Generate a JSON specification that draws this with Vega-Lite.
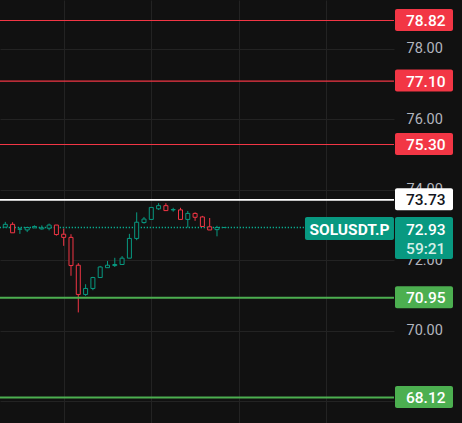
{
  "$schema": "https://vega.github.io/schema/vega-lite/v6.json",
  "width": 394,
  "height": 423,
  "autosize": {"type": "none"},
  "padding": {"left": 0, "top": 0, "right": 68, "bottom": 0},
  "background": "#111111",
  "config": {"view": {"stroke": null}, "font": "Roboto"},
  "datasets": {
    "candles": [
      {"i": 0, "o": 72.94, "h": 73.09, "l": 72.94, "c": 73.02},
      {"i": 1, "o": 73.02, "h": 73.08, "l": 72.78, "c": 72.78},
      {"i": 2, "o": 72.88, "h": 72.93, "l": 72.75, "c": 72.89},
      {"i": 3, "o": 72.86, "h": 72.93, "l": 72.80, "c": 72.93},
      {"i": 4, "o": 72.92, "h": 72.99, "l": 72.92, "c": 72.96},
      {"i": 5, "o": 72.89, "h": 72.99, "l": 72.87, "c": 72.92},
      {"i": 6, "o": 72.91, "h": 73.04, "l": 72.85, "c": 73.00},
      {"i": 7, "o": 73.00, "h": 73.00, "l": 72.70, "c": 72.73},
      {"i": 8, "o": 72.74, "h": 72.90, "l": 72.41, "c": 72.65},
      {"i": 9, "o": 72.65, "h": 72.74, "l": 71.56, "c": 71.85},
      {"i": 10, "o": 71.86, "h": 71.92, "l": 70.52, "c": 71.03},
      {"i": 11, "o": 71.03, "h": 71.32, "l": 70.99, "c": 71.20},
      {"i": 12, "o": 71.20, "h": 71.53, "l": 71.15, "c": 71.51},
      {"i": 13, "o": 71.51, "h": 71.84, "l": 71.51, "c": 71.81},
      {"i": 14, "o": 71.79, "h": 71.98, "l": 71.79, "c": 71.86},
      {"i": 15, "o": 71.85, "h": 72.07, "l": 71.81, "c": 71.88},
      {"i": 16, "o": 71.88, "h": 72.12, "l": 71.88, "c": 72.06},
      {"i": 17, "o": 72.06, "h": 72.75, "l": 72.06, "c": 72.62},
      {"i": 18, "o": 72.62, "h": 73.36, "l": 72.57, "c": 73.08},
      {"i": 19, "o": 73.07, "h": 73.23, "l": 73.04, "c": 73.17},
      {"i": 20, "o": 73.16, "h": 73.50, "l": 73.16, "c": 73.50},
      {"i": 21, "o": 73.46, "h": 73.62, "l": 73.43, "c": 73.55},
      {"i": 22, "o": 73.55, "h": 73.62, "l": 73.41, "c": 73.41},
      {"i": 23, "o": 73.43, "h": 73.49, "l": 73.38, "c": 73.44},
      {"i": 24, "o": 73.43, "h": 73.49, "l": 73.16, "c": 73.16},
      {"i": 25, "o": 73.16, "h": 73.40, "l": 72.93, "c": 73.33},
      {"i": 26, "o": 73.33, "h": 73.36, "l": 73.12, "c": 73.22},
      {"i": 27, "o": 73.23, "h": 73.26, "l": 72.96, "c": 72.96},
      {"i": 28, "o": 72.95, "h": 73.20, "l": 72.86, "c": 72.86},
      {"i": 29, "o": 72.87, "h": 72.98, "l": 72.68, "c": 72.93},
      {"i": 30, "o": 72.93, "h": 72.93, "l": 72.93, "c": 72.93}
    ],
    "levels": [
      {"price": 78.82, "label": "78.82", "kind": "res"},
      {"price": 77.10, "label": "77.10", "kind": "res"},
      {"price": 75.30, "label": "75.30", "kind": "res"},
      {"price": 73.73, "label": "73.73", "kind": "cur"},
      {"price": 70.95, "label": "70.95", "kind": "sup"},
      {"price": 68.12, "label": "68.12", "kind": "sup"}
    ],
    "last": [
      {"price": 72.93, "label": "72.93", "symbol": "SOLUSDT.P", "countdown": "59:21"}
    ]
  },
  "layer": [
    {
      "data": {"name": "candles"},
      "mark": {"type": "rule", "strokeWidth": 1},
      "encoding": {
        "x": {
          "field": "i", "type": "quantitative", "title": null,
          "scale": {"domain": [-0.726, 53.25], "nice": false, "zero": false, "padding": 0},
          "axis": {"values": [8, 20, 32, 44], "labels": false, "ticks": false, "domain": false, "grid": true, "gridColor": "#232323", "gridWidth": 1}
        },
        "y": {
          "field": "l", "type": "quantitative", "title": null,
          "scale": {"domain": [67.381, 79.388], "nice": false, "zero": false, "padding": 0},
          "axis": {"orient": "right", "values": [68, 70, 72, 74, 76, 78], "format": ".2f", "ticks": false, "domain": false, "grid": true, "gridColor": "#232323", "labelColor": "#b2b5be", "labelFontSize": 14.5, "labelPadding": 12, "labelAlign": "left", "labelBaseline": "middle", "labelFont": "Roboto"}
        },
        "y2": {"field": "h"},
        "color": {"condition": {"test": "datum.c >= datum.o", "value": "#089981"}, "value": "#F23645"}
      }
    },
    {
      "data": {"name": "levels"},
      "mark": {"type": "rule", "yOffset": 0.5},
      "encoding": {
        "y": {"field": "price", "type": "quantitative", "title": null},
        "color": {"field": "kind", "type": "nominal", "legend": null, "scale": {"domain": ["res", "cur", "sup"], "range": ["#F23645", "#FFFFFF", "#4CAF50"]}},
        "strokeWidth": {"field": "kind", "type": "nominal", "legend": null, "scale": {"domain": ["res", "cur", "sup"], "range": [1.2, 2, 2]}}
      }
    },
    {
      "data": {"name": "last"},
      "mark": {"type": "rule", "strokeDash": [1.3, 1.7], "color": "#0aa88d", "strokeWidth": 1.3},
      "encoding": {
        "y": {"field": "price", "type": "quantitative", "title": null}
      }
    },
    {
      "data": {"name": "candles"},
      "mark": {"type": "bar", "width": 4, "fill": "#111111", "strokeWidth": 1},
      "encoding": {
        "x": {"field": "i", "type": "quantitative", "title": null},
        "y": {"field": "o", "type": "quantitative", "title": null},
        "y2": {"field": "c"},
        "stroke": {"condition": {"test": "datum.c >= datum.o", "value": "#089981"}, "value": "#F23645"}
      }
    },
    {
      "data": {"name": "levels"},
      "mark": {"type": "tick", "orient": "horizontal", "size": 58, "thickness": 22, "cornerRadius": 2, "opacity": 1},
      "encoding": {
        "x": {"datum": 57.36},
        "y": {"field": "price", "type": "quantitative", "title": null},
        "color": {"field": "kind", "type": "nominal", "legend": null}
      }
    },
    {
      "data": {"name": "levels"},
      "mark": {"type": "text", "align": "center", "baseline": "middle", "fontSize": 15.5, "fontWeight": 500, "font": "Roboto", "dy": 1},
      "encoding": {
        "x": {"datum": 57.6},
        "y": {"field": "price", "type": "quantitative", "title": null},
        "text": {"field": "label"},
        "color": {"condition": {"test": "datum.kind == 'cur'", "value": "#131722"}, "value": "#FFFFFF"}
      }
    },
    {
      "data": {"name": "last"},
      "mark": {"type": "tick", "orient": "horizontal", "size": 58, "thickness": 42, "cornerRadius": 2, "yOffset": 10.5, "color": "#089981", "opacity": 1},
      "encoding": {
        "x": {"datum": 57.36},
        "y": {"field": "price", "type": "quantitative", "title": null}
      }
    },
    {
      "data": {"name": "last"},
      "mark": {"type": "tick", "orient": "horizontal", "size": 89, "thickness": 23, "cornerRadius": 2, "yOffset": 1, "color": "#089981", "opacity": 1},
      "encoding": {
        "x": {"datum": 47.15},
        "y": {"field": "price", "type": "quantitative", "title": null}
      }
    },
    {
      "data": {"name": "last"},
      "mark": {"type": "text", "align": "center", "baseline": "middle", "fontSize": 15.5, "fontWeight": "bold", "font": "Roboto", "color": "#FFFFFF", "dy": 2},
      "encoding": {
        "x": {"datum": 47.15},
        "y": {"field": "price", "type": "quantitative", "title": null},
        "text": {"field": "symbol"}
      }
    },
    {
      "data": {"name": "last"},
      "mark": {"type": "text", "align": "center", "baseline": "middle", "fontSize": 15.5, "fontWeight": 500, "font": "Roboto", "color": "#FFFFFF", "dy": 2},
      "encoding": {
        "x": {"datum": 57.6},
        "y": {"field": "price", "type": "quantitative", "title": null},
        "text": {"field": "label"}
      }
    },
    {
      "data": {"name": "last"},
      "mark": {"type": "text", "align": "center", "baseline": "middle", "fontSize": 15.5, "fontWeight": 500, "font": "Roboto", "color": "#d4efe8", "dy": 21},
      "encoding": {
        "x": {"datum": 57.6},
        "y": {"field": "price", "type": "quantitative", "title": null},
        "text": {"field": "countdown"}
      }
    }
  ]
}
